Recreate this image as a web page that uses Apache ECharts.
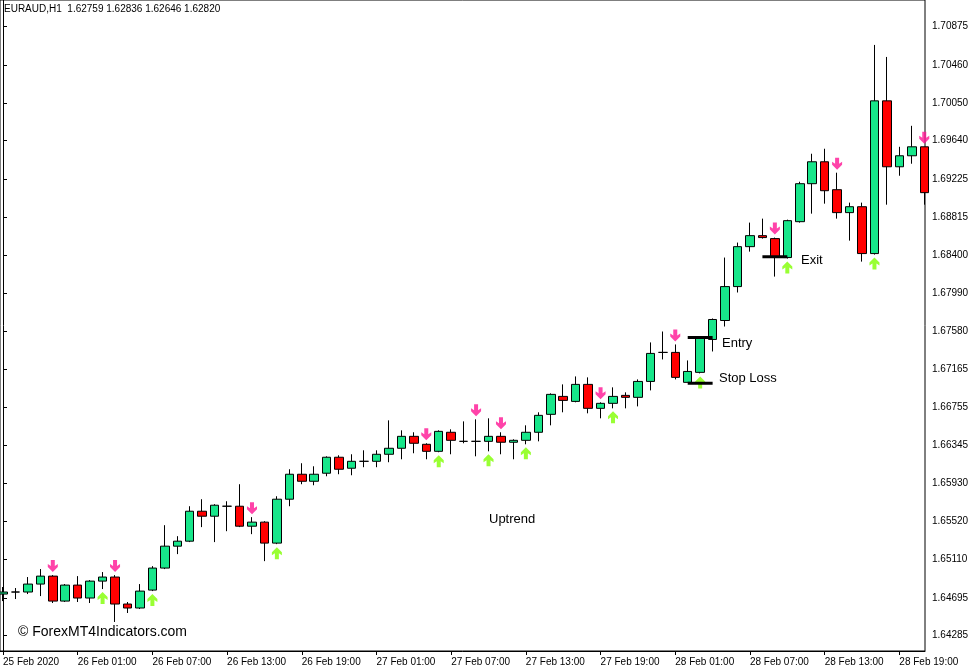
<!DOCTYPE html>
<html>
<head>
<meta charset="utf-8">
<script src="https://cdn.jsdelivr.net/npm/echarts@6/dist/echarts.min.js"></script>
<style>html,body{margin:0;padding:0;background:#fff}#main{width:977px;height:672px}</style>
</head>
<body>
<div id="main"></div>
<script>
// EURAUD H1 candles
const opens = [1.64736,1.64758,1.64758,1.64844,1.64930,1.64660,1.64833,1.64693,1.64876,1.64920,
  1.64628,1.64585,1.64779,1.65017,1.65254,1.65308,1.65632,1.65578,1.65686,1.65686,
  1.65470,1.65514,1.65287,1.65762,1.66032,1.65956,1.66043,1.66216,1.66097,1.66172,
  1.66172,1.66248,1.66313,1.66442,1.66356,1.66280,1.66486,1.66388,1.66388,1.66388,
  1.66442,1.66378,1.66399,1.66486,1.66680,1.66874,1.66820,1.67004,1.66745,1.66799,
  1.66885,1.66864,1.67036,1.67350,1.67350,1.67026,1.67134,1.67490,1.67695,1.68062,
  1.68494,1.68613,1.68581,1.68376,1.68764,1.69175,1.69412,1.69110,1.68862,1.68926,
  1.68419,1.70071,1.69358,1.69477,1.69574]
const closes = [1.64758,1.64758,1.64844,1.64930,1.64660,1.64833,1.64693,1.64876,1.64920,1.64628,
  1.64585,1.64768,1.65017,1.65254,1.65308,1.65632,1.65578,1.65697,1.65686,1.65470,
  1.65514,1.65287,1.65762,1.66032,1.65956,1.66032,1.66216,1.66086,1.66172,1.66172,
  1.66248,1.66313,1.66442,1.66367,1.66280,1.66496,1.66399,1.66388,1.66388,1.66442,
  1.66378,1.66399,1.66486,1.66669,1.66896,1.66831,1.67004,1.66745,1.66799,1.66874,
  1.66864,1.67036,1.67339,1.67350,1.67080,1.67144,1.67512,1.67706,1.68062,1.68494,
  1.68613,1.68592,1.68386,1.68775,1.69175,1.69412,1.69099,1.68862,1.68926,1.68419,
  1.70071,1.69358,1.69477,1.69574,1.69078]
const lows = [1.64660,1.64682,1.64736,1.64714,1.64639,1.64650,1.64650,1.64639,1.64790,1.64434,
  1.64531,1.64574,1.64768,1.65006,1.65168,1.65298,1.65460,1.65298,1.65416,1.65460,
  1.65384,1.65092,1.65276,1.65686,1.65924,1.65913,1.66010,1.66032,1.66021,1.66108,
  1.66108,1.66162,1.66194,1.66259,1.66194,1.66270,1.66248,1.66367,1.66226,1.66280,
  1.66248,1.66194,1.66356,1.66388,1.66561,1.66702,1.66810,1.66691,1.66637,1.66745,
  1.66745,1.66766,1.66939,1.67274,1.67058,1.67026,1.67123,1.67360,1.67630,1.67998,
  1.68440,1.68581,1.68170,1.68365,1.68754,1.68851,1.68959,1.68797,1.68559,1.68332,
  1.68408,1.68948,1.69261,1.69391,1.68948]
const highs = [1.64812,1.64801,1.64920,1.65006,1.64941,1.64844,1.64930,1.64887,1.64974,1.64941,
  1.64650,1.64844,1.65038,1.65481,1.65362,1.65686,1.65762,1.65708,1.65740,1.65924,
  1.65568,1.65524,1.65794,1.66086,1.66151,1.66118,1.66226,1.66237,1.66248,1.66291,
  1.66291,1.66615,1.66507,1.66486,1.66367,1.66507,1.66518,1.66604,1.66626,1.66637,
  1.66486,1.66410,1.66561,1.66702,1.66907,1.67004,1.67090,1.67080,1.66810,1.66972,
  1.66918,1.67058,1.67458,1.67576,1.67436,1.67263,1.67522,1.67717,1.68376,1.68538,
  1.68754,1.68797,1.68592,1.68786,1.69196,1.69499,1.69553,1.69294,1.68970,1.68970,
  1.70676,1.70546,1.69574,1.69801,1.69574]
const downArrows = [4, 9, 20, 34, 38, 40, 48, 54, 62, 67, 74]
const upArrows = [8, 12, 22, 35, 39, 42, 49, 56, 63, 70]
const dateLabels = ['25 Feb 2020','26 Feb 01:00','26 Feb 07:00','26 Feb 13:00','26 Feb 19:00',
  '27 Feb 01:00','27 Feb 07:00','27 Feb 13:00','27 Feb 19:00','28 Feb 01:00','28 Feb 07:00',
  '28 Feb 13:00','28 Feb 19:00']
const dateBars = [0,6,12,18,24,30,36,42,48,54,60,66,72]
const priceTicks = [1.64285,1.64695,1.65110,1.65520,1.65930,1.66345,1.66755,1.67165,
  1.67580,1.67990,1.68400,1.68815,1.69225,1.69640,1.70050,1.70460,1.70875]
// entry / stop loss / exit levels
const entryLine = [[55, 1.67512], [57, 1.67512]]
const stopLine = [[55, 1.67015], [57, 1.67015]]
const exitLine = [[61, 1.68386], [63, 1.68386]]

let candles = opens.map(function (o, i) { return [i, o, closes[i], lows[i], highs[i]] })
let downPts = downArrows.map(function (i) { return [i, highs[i]] })
let upPts = upArrows.map(function (i) { return [i, lows[i]] })

const arrowDown = 'path://M3,0 L7,0 L7,6 L10,4 L10,7 L5,12 L0,7 L0,4 L3,6 Z'
const arrowUp = 'path://M5,0 L10,5 L10,8 L7,6 L7,12 L3,12 L3,6 L0,8 L0,5 Z'

function lineSeries(data) {
  return { type: 'line', data: data, symbol: 'none', silent: true,
    lineStyle: { color: '#000', width: 3 }, z: 5 }
}

let myChart = echarts.init(document.getElementById('main'))
let option = {
  animation: false,
  backgroundColor: '#fff',
  textStyle: { fontFamily: 'Arial, Liberation Sans, sans-serif' },
  grid: { left: 0, top: 0, right: 52, bottom: 21 },
  xAxis: {
    type: 'value', min: -0.24, max: 74.06,
    splitLine: { show: false },
    axisLine: { lineStyle: { color: '#000' } },
    axisTick: { customValues: dateBars, length: 4, lineStyle: { color: '#000' } },
    axisLabel: { customValues: dateBars, color: '#000', fontSize: 10, margin: 6, align: 'left',
      formatter: function (v) { return dateLabels[dateBars.indexOf(Math.round(v))] || '' } }
  },
  yAxis: {
    type: 'value', position: 'right', min: 1.6412, max: 1.71162,
    splitLine: { show: false },
    axisLine: { show: true, lineStyle: { color: '#000' } },
    axisTick: { show: true, customValues: priceTicks, length: 4, lineStyle: { color: '#000' } },
    axisLabel: { customValues: priceTicks, color: '#000', fontSize: 10, margin: 7,
      formatter: function (v) { return v.toFixed(5) } }
  },
  graphic: [
    { type: 'text', left: 4, top: 4, style: { text: 'EURAUD,H1  1.62759 1.62836 1.62646 1.62820', fontSize: 10, fill: '#000' } },
    { type: 'text', left: 18, top: 625, style: { text: '© ForexMT4Indicators.com', fontSize: 14, fill: '#000' } },
    { type: 'text', left: 489, top: 513, style: { text: 'Uptrend', fontSize: 13, fill: '#000' } },
    { type: 'text', left: 722, top: 337, style: { text: 'Entry', fontSize: 13, fill: '#000' } },
    { type: 'text', left: 719, top: 372, style: { text: 'Stop Loss', fontSize: 13, fill: '#000' } },
    { type: 'text', left: 801, top: 254, style: { text: 'Exit', fontSize: 13, fill: '#000' } },
    { type: 'rect', shape: { x: 0, y: 0, width: 925, height: 651 }, silent: true,
      style: { fill: 'none', stroke: '#000', lineWidth: 1 } }
  ],
  series: [
    {
      type: 'candlestick', data: candles, barWidth: 9,
      itemStyle: { color: '#17e68a', color0: '#ff0000', borderColor: '#000', borderColor0: '#000', borderWidth: 1 }
    },
    { type: 'scatter', data: downPts, symbol: arrowDown, symbolSize: [10, 12], symbolOffset: [0, -9],
      itemStyle: { color: '#ff1493' }, z: 4 },
    { type: 'scatter', data: upPts, symbol: arrowUp, symbolSize: [10, 12], symbolOffset: [0, 9],
      itemStyle: { color: '#7fff00' }, z: 4 },
    lineSeries(entryLine), lineSeries(stopLine), lineSeries(exitLine)
  ]
}
myChart.setOption(option)
</script>
</body>
</html>
